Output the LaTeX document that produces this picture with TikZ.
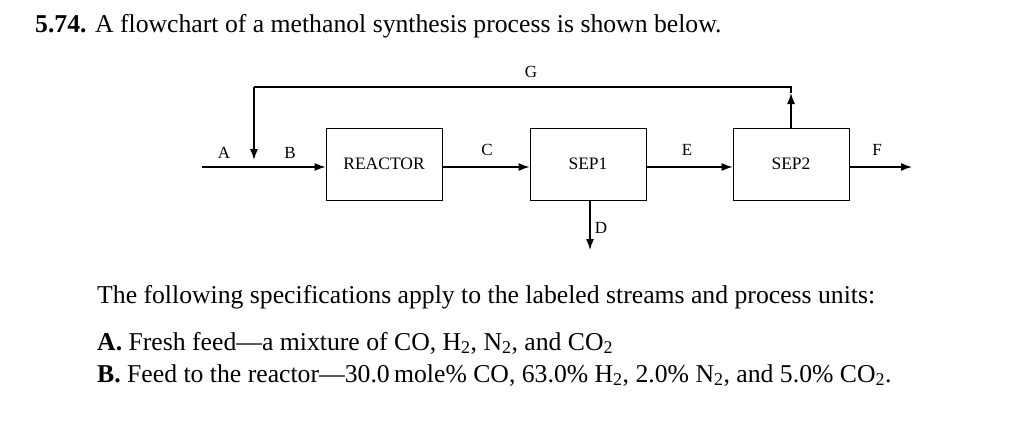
\documentclass[tikz,border=0pt]{standalone}
\usepackage{fontspec}
\setmainfont{Liberation Serif}
\usetikzlibrary{arrows.meta}
\begin{document}
\begin{tikzpicture}[x=1pt,y=-1pt,
  unit/.style={draw,line width=0.8pt,minimum width=116pt,minimum height=72pt,font=\fontsize{17.5}{20}\selectfont},
  lab/.style={font=\fontsize{17}{20}\selectfont},
  txt/.style={anchor=base west,font=\fontsize{25.7}{28}\selectfont,inner sep=0},
  flow/.style={line width=1.3pt,-{Latex[length=11pt,width=8pt]}}]
\useasboundingbox (0,0) rectangle (1024,444);
\node[txt] (title) at (35,33) {\textbf{5.74.} A flowchart of a methanol synthesis process is shown below.};
\node[unit] (r) at (384,164) {REACTOR};
\node[unit] (s1) at (588,164) {SEP1};
\node[unit] (s2) at (791,164) {SEP2};
\coordinate (a) at (202,167);
\coordinate (m) at (254,167);
\coordinate (mt) at (254,87);
\coordinate (gt) at (791,87);
\coordinate (gu) at (791,93);
\coordinate (f) at (912,167);
\coordinate (d) at (590,250);
\draw[line width=1.3pt] (a) -- (m);
\draw[flow] (m) -- (r.west |- m);
\draw[flow] (r.east |- m) -- (s1.west |- m);
\draw[flow] (s1.east |- m) -- (s2.west |- m);
\draw[flow] (s2.east |- m) -- (f);
\draw[flow] (s1.south -| d) -- (d);
\draw[flow] (s2.north) -- (gu);
\draw[line width=1.3pt] (gu) -- (gt) -- (mt);
\draw[flow] (mt) -- (254,160);
\node[lab] (la) at (224,153) {A};
\node[lab] (lb) at (290,153) {B};
\node[lab] (lc) at (487,150) {C};
\node[lab] (le) at (687,150) {E};
\node[lab] (lf) at (877,150) {F};
\node[lab] (lg) at (531,72) {G};
\node[lab] (ld) at (601,228) {D};
\node[txt] (t1) at (97,303) {The following specifications apply to the labeled streams and process units:};
\node[txt] (t2) at (97,350) {\textbf{A.} Fresh feed—a mixture of CO, H\textsubscript{2}, N\textsubscript{2}, and CO\textsubscript{2}};
\node[txt] (t3) at (97,382) {\textbf{B.} Feed to the reactor—30.0\,mole\% CO, 63.0\% H\textsubscript{2}, 2.0\% N\textsubscript{2}, and 5.0\% CO\textsubscript{2}.};
\end{tikzpicture}
\end{document}
